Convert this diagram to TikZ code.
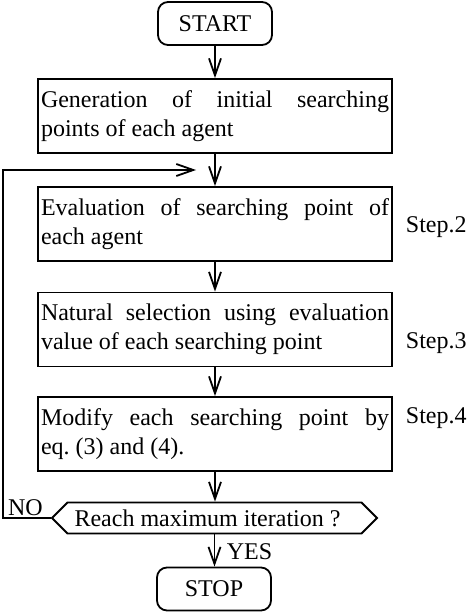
\documentclass[tikz,border=0pt]{standalone}
\usepackage{fontspec}
\setmainfont{Liberation Serif}
\usetikzlibrary{arrows.meta,shapes.symbols}

\tikzset{
  box/.style={draw, text width=348pt, inner xsep=3pt, inner ysep=0pt,
    minimum height=74pt, align=justify},
  terminal/.style={draw, rounded corners=10pt, minimum width=114pt,
    minimum height=43pt, inner sep=0pt},
  test/.style={draw, signal, signal to=west and east, signal pointer angle=90,
    minimum width=325pt, minimum height=31pt, inner sep=0pt},
  steplabel/.style={anchor=base west, inner sep=0pt},
}

\begin{document}
\begin{tikzpicture}[x=1pt, y=-1pt, line width=1.8pt,
  font=\fontsize{24}{29}\selectfont,
  >={Straight Barb[length=17pt,width=12pt]}]

\useasboundingbox (0,0) rectangle (466,612);

\coordinate (start) at (215,23.5);
\coordinate (init) at (215,116);
\coordinate (eval) at (215,224);
\coordinate (select) at (215,329.5);
\coordinate (modify) at (215,434);
\coordinate (check) at (214.5,518);
\coordinate (stop) at (214,589);

\coordinate (loop-corner) at (3,518);
\coordinate (loop-end) at (196,170);

\node [terminal] (start-box) at (start) {START};
\node [box] (init-box) at (init) {Generation of initial searching\linebreak points of each agent};
\node [box] (eval-box) at (eval) {Evaluation of searching point of\linebreak each agent};
\node [box] (select-box) at (select) {Natural selection using evaluation\linebreak value of each searching point};
\node [box] (modify-box) at (modify) {Modify each searching point by\linebreak eq.\ (3) and (4).};
\node [test] (check-box) at (check) {\hspace*{-14pt}Reach maximum iteration ?};
\node [terminal] (stop-box) at (stop) {STOP};

\node [steplabel] (step2) at (405,233) {Step.2};
\node [steplabel] (step3) at (405,348) {Step.3};
\node [steplabel] (step4) at (405,423) {Step.4};

\node [anchor=base, inner sep=0pt] (no) at (25.5,515) {NO};
\node [anchor=base west, inner sep=0pt] (yes) at (226,559) {YES};

\draw [->] (start-box) -- (init-box);
\draw [->] (init-box) -- (eval-box);
\draw [->] (eval-box) -- (select-box);
\draw [->] (select-box) -- (modify-box);
\draw [->] (modify-box.south) -- (modify-box.south |- check-box.north);
\draw [->] (check-box.south) -- (check-box.south |- stop-box.north);
\draw [->] (check-box.west) -- (loop-corner) |- (loop-end);

\end{tikzpicture}
\end{document}
